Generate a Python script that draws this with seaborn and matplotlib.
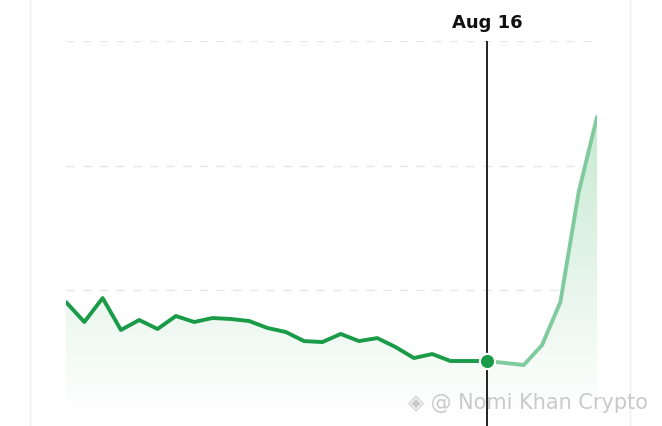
import numpy as np
import pandas as pd
import seaborn as sns
import matplotlib.pyplot as plt
from matplotlib.lines import Line2D
from matplotlib.colors import LinearSegmentedColormap

# daily values (Jul 24 .. Aug 22)
days = pd.date_range("2025-07-24", periods=30).strftime("%b %d").tolist()
values = [90.6, 74.6, 93.8, 68.2, 76.2, 69.0, 79.4, 74.6, 77.8, 77.0,
          75.4, 69.8, 66.6, 59.3, 58.5, 65.0, 59.3, 61.7, 54.5, 45.7,
          48.9, 43.3, 43.3, 43.3, 41.7, 40.1, 56.1, 90.6, 178.8, 239.0]
grid_vals = [0, 100, 200, 300]
sel_label = "Aug 16"

df = pd.DataFrame({"day": days, "value": values})
df["pos"] = range(len(df))
sel = df.index[df["day"] == sel_label][0]
past = df[df["pos"] <= sel]
future = df[df["pos"] >= sel]

dark_green = "#1a9b48"
light_green = "#7fcb9d"

sns.set_style("white")
fig = plt.figure(figsize=(6.62, 4.27), dpi=100)
ax = fig.add_axes([66 / 662, 11 / 427, 531 / 662, 374 / 427])

# card edges
fig.add_artist(Line2D([30 / 662, 30 / 662], [0, 1], color="#eeeeee", lw=1))
fig.add_artist(Line2D([630 / 662, 630 / 662], [0, 1], color="#eeeeee", lw=1))

for g in grid_vals:
    ax.axhline(g, color="#e6e6e6", lw=1, ls=(0, (6, 6)), zorder=0)

# gradient fill under the line
fill = ax.fill_between(df["pos"], df["value"], 0, color="none")
grad = np.linspace(0, 1, 256).reshape(-1, 1)
cmap = LinearSegmentedColormap.from_list("fade", ["#ffffff", "#e4f4e9", "#c6ead2"])
img = ax.imshow(grad, extent=[0, len(df) - 1, 0, max(values)], origin="lower",
                cmap=cmap, aspect="auto", zorder=1)
img.set_clip_path(fill.get_paths()[0], transform=ax.transData)

sns.lineplot(data=past, x="pos", y="value", color=dark_green, lw=2.8, ax=ax, zorder=3)
sns.lineplot(data=future, x="pos", y="value", color=light_green, lw=2.8, ax=ax, zorder=3)

ax.axvline(sel, ymin=0, ymax=1, color="#222222", lw=1.4, zorder=4)
ax.vlines(sel, -20, 0, color="#222222", lw=1.4, clip_on=False, zorder=4)
ax.scatter([sel], [df.loc[sel, "value"]], s=120, color=dark_green,
           edgecolor="white", linewidth=1.5, zorder=5)
ax.text(sel, 308, sel_label, ha="center", va="bottom", fontsize=13,
        fontweight="bold", color="#111111")

fig.text(648 / 662, 1 - 403 / 427, "◈ @ Nomi Khan Crypto", ha="right", va="center",
         fontsize=15, color="#c4c4c4", alpha=0.9, zorder=6)

ax.set_xlim(0, len(df) - 1)
ax.set_ylim(0, 300)
ax.set_xlabel("")
ax.set_ylabel("")
ax.set_xticks([])
ax.set_yticks([])
sns.despine(ax=ax, left=True, bottom=True)

fig.savefig("out.png", dpi=100)
